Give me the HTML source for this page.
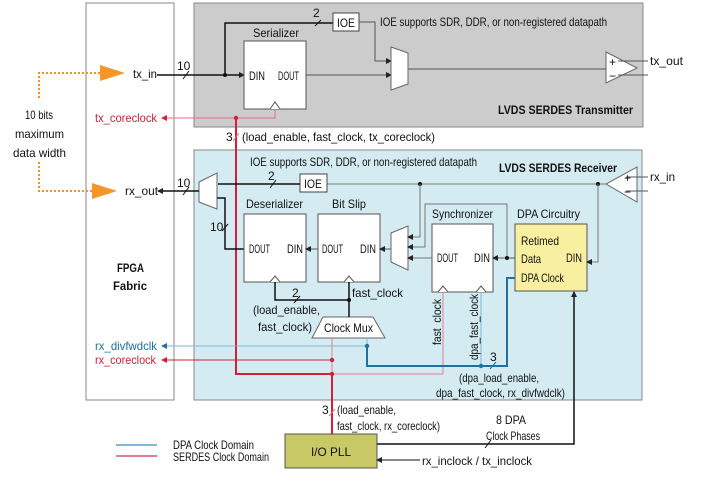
<!DOCTYPE html>
<html><head><meta charset="utf-8"><style>
html,body{margin:0;padding:0;background:#fff}
svg{display:block}
text{font-family:"Liberation Sans",sans-serif;font-size:12px;fill:#111}
.b{font-weight:bold}
</style></head><body>
<svg width="727" height="482" viewBox="0 0 727 482" xmlns="http://www.w3.org/2000/svg">
<defs>
<marker id="ak" markerWidth="6" markerHeight="6" refX="5" refY="3" orient="auto" markerUnits="userSpaceOnUse"><path d="M0,0 L6,3 L0,6z" fill="#222"/></marker>
<marker id="ar" markerWidth="6" markerHeight="6" refX="5" refY="3" orient="auto" markerUnits="userSpaceOnUse"><path d="M0,0 L6,3 L0,6z" fill="#d0203a"/></marker>
<marker id="ab" markerWidth="6" markerHeight="6" refX="5" refY="3" orient="auto" markerUnits="userSpaceOnUse"><path d="M0,0 L6,3 L0,6z" fill="#2070a0"/></marker>
</defs>
<rect x="86" y="3" width="88" height="397" fill="#fff" stroke="#888" stroke-width="1"/>
<text x="117" y="272" class="b" textLength="27" lengthAdjust="spacingAndGlyphs">FPGA</text>
<text x="113" y="290" class="b" textLength="34" lengthAdjust="spacingAndGlyphs">Fabric</text>
<rect x="194" y="3" width="449" height="124" fill="#cccccc" stroke="#888"/>
<rect x="194" y="150" width="448" height="250" fill="#d4ebf2" stroke="#888"/>
<g stroke="#f0902a" stroke-width="2" stroke-dasharray="2,2" fill="none">
<path d="M39,98 V73 H102"/><path d="M39,162 V191 H94"/></g>
<path d="M100,65 L125,73 L100,81z" fill="#f5962a"/>
<path d="M92,183 L117,191 L92,199z" fill="#f5962a"/>
<text x="25" y="119" textLength="28" lengthAdjust="spacingAndGlyphs">10 bits</text>
<text x="15" y="138" textLength="49" lengthAdjust="spacingAndGlyphs">maximum</text>
<text x="13" y="157" textLength="53" lengthAdjust="spacingAndGlyphs">data width</text>
<!-- TX -->
<text x="133" y="78" textLength="24" lengthAdjust="spacingAndGlyphs">tx_in</text>
<line x1="157" y1="75" x2="244" y2="75" stroke="#111" stroke-width="1.5" marker-end="url(#ak)"/>
<text x="177" y="70" font-size="10">10</text><line x1="183" y1="79" x2="189" y2="71" stroke="#111"/>
<circle cx="225" cy="75" r="2" fill="#111"/>
<path d="M225,75 V23 H333" stroke="#111" stroke-width="1.5" fill="none"/>
<text x="313" y="17" font-size="10">2</text><line x1="315" y1="26" x2="321" y2="20" stroke="#111"/>
<rect x="333" y="13" width="26" height="18" fill="#fff" stroke="#444"/><text x="337" y="27" textLength="18" lengthAdjust="spacingAndGlyphs">IOE</text>
<text x="380" y="26" textLength="227" lengthAdjust="spacingAndGlyphs">IOE supports SDR, DDR, or non-registered datapath</text>
<text x="253" y="37" textLength="46" lengthAdjust="spacingAndGlyphs">Serializer</text>
<rect x="244" y="41" width="62" height="68" fill="#fff" stroke="#555"/>
<text x="249" y="80" font-size="11" textLength="16" lengthAdjust="spacingAndGlyphs">DIN</text><text x="278" y="80" font-size="11" textLength="21" lengthAdjust="spacingAndGlyphs">DOUT</text>
<path d="M270,109 L275,102 L280,109" fill="#fff" stroke="#555"/>
<path d="M359,22 H375 V61 H391" stroke="#555" fill="none" marker-end="url(#ak)"/>
<line x1="306" y1="75" x2="391" y2="75" stroke="#555" marker-end="url(#ak)"/>
<path d="M391,47 L408,53 L408,84 L391,90z" fill="#fff" stroke="#666"/>
<line x1="408" y1="69" x2="606" y2="69" stroke="#555"/>
<path d="M606,52 L637,68 L606,83z" fill="#fff" stroke="#666"/>
<line x1="618" y1="61" x2="648" y2="61" stroke="#555"/><line x1="618" y1="75" x2="648" y2="75" stroke="#555"/>
<text x="609" y="66" font-size="13">+</text><text x="609" y="80" font-size="13">−</text>
<text x="650" y="65" textLength="33" lengthAdjust="spacingAndGlyphs">tx_out</text>
<text x="498" y="114" class="b" textLength="135" lengthAdjust="spacingAndGlyphs">LVDS SERDES Transmitter</text>
<text x="95" y="122" style="fill:#d0203a" textLength="62" lengthAdjust="spacingAndGlyphs">tx_coreclock</text>
<path d="M275,109 V118 H162" stroke="#e07080" fill="none" marker-end="url(#ar)"/>
<circle cx="236" cy="118" r="2.2" fill="#d0203a"/>
<path d="M236,118 V374 H332" stroke="#d0203a" stroke-width="2" fill="none"/>
<text x="226" y="141" font-size="10">3</text><line x1="233" y1="141" x2="239" y2="133" stroke="#e07080"/>
<text x="242" y="141" textLength="193" lengthAdjust="spacingAndGlyphs">(load_enable, fast_clock, tx_coreclock)</text>
<!-- RX -->
<text x="250" y="166" textLength="227" lengthAdjust="spacingAndGlyphs">IOE supports SDR, DDR, or non-registered datapath</text>
<text x="499" y="172" class="b" textLength="118" lengthAdjust="spacingAndGlyphs">LVDS SERDES Receiver</text>
<path d="M637,167 L606,184 L637,202z" fill="#fff" stroke="#666"/>
<line x1="626" y1="177" x2="648" y2="177" stroke="#555"/><line x1="626" y1="191" x2="648" y2="191" stroke="#555"/>
<text x="624" y="182" font-size="13">+</text><text x="624" y="196" font-size="13">−</text>
<text x="650" y="181" textLength="25" lengthAdjust="spacingAndGlyphs">rx_in</text>
<line x1="606" y1="184" x2="327" y2="184" stroke="#777"/>
<circle cx="420" cy="184" r="2" fill="#111"/><circle cx="598" cy="184" r="2" fill="#111"/>
<rect x="300" y="174" width="27" height="18" fill="#fff" stroke="#444"/><text x="304" y="188" textLength="18" lengthAdjust="spacingAndGlyphs">IOE</text>
<line x1="218" y1="184" x2="300" y2="184" stroke="#111" stroke-width="1.5"/>
<text x="268" y="180" font-size="10">2</text><line x1="270" y1="188" x2="276" y2="180" stroke="#111"/>
<path d="M199,182 L217,173 L217,209 L199,202z" fill="#fff" stroke="#666"/>
<line x1="199" y1="191" x2="158" y2="191" stroke="#111" stroke-width="1.5" marker-end="url(#ak)"/>
<text x="125" y="195" textLength="33" lengthAdjust="spacingAndGlyphs">rx_out</text>
<text x="177" y="187" font-size="10">10</text><line x1="183" y1="195" x2="189" y2="187" stroke="#111"/>
<path d="M217,198 H225 V249 H244" stroke="#111" stroke-width="1.5" fill="none"/>
<text x="210" y="231" font-size="10">10</text><line x1="222" y1="231" x2="228" y2="224" stroke="#111"/>
<text x="246" y="208" textLength="57" lengthAdjust="spacingAndGlyphs">Deserializer</text>
<rect x="244" y="214" width="62" height="68" fill="#fff" stroke="#555"/>
<text x="249" y="253" font-size="11" textLength="21" lengthAdjust="spacingAndGlyphs">DOUT</text><text x="287" y="253" font-size="11" textLength="16" lengthAdjust="spacingAndGlyphs">DIN</text>
<path d="M270,282 L275,276 L280,282" fill="#fff" stroke="#555"/>
<text x="332" y="208" textLength="34" lengthAdjust="spacingAndGlyphs">Bit Slip</text>
<rect x="318" y="214" width="62" height="68" fill="#fff" stroke="#555"/>
<text x="322" y="253" font-size="11" textLength="21" lengthAdjust="spacingAndGlyphs">DOUT</text><text x="360" y="253" font-size="11" textLength="16" lengthAdjust="spacingAndGlyphs">DIN</text>
<path d="M344,282 L349,276 L354,282" fill="#fff" stroke="#555"/>
<line x1="318" y1="249" x2="306" y2="249" stroke="#555" marker-end="url(#ak)"/>
<path d="M391,233 L408,226 L408,270 L391,262z" fill="#fff" stroke="#666"/>
<line x1="391" y1="249" x2="380" y2="249" stroke="#555" marker-end="url(#ak)"/>
<path d="M420,184 V237 H408" stroke="#777" fill="none" marker-end="url(#ak)"/>
<path d="M507,258 V204 H425 V247 H408" stroke="#777" fill="none" marker-end="url(#ak)"/>
<line x1="432" y1="258" x2="408" y2="258" stroke="#777" marker-end="url(#ak)"/>
<text x="432" y="218" textLength="61" lengthAdjust="spacingAndGlyphs">Synchronizer</text>
<rect x="432" y="224" width="61" height="68" fill="#fff" stroke="#555"/>
<text x="437" y="262" font-size="11" textLength="21" lengthAdjust="spacingAndGlyphs">DOUT</text><text x="474" y="262" font-size="11" textLength="16" lengthAdjust="spacingAndGlyphs">DIN</text>
<path d="M438,292 L443,286 L448,292" fill="#fff" stroke="#555"/>
<path d="M476,292 L481,286 L486,292" fill="#fff" stroke="#555"/>
<line x1="515" y1="258" x2="493" y2="258" stroke="#555" marker-end="url(#ak)"/>
<circle cx="507" cy="258" r="2" fill="#111"/>
<text x="517" y="218" textLength="63" lengthAdjust="spacingAndGlyphs">DPA Circuitry</text>
<rect x="515" y="224" width="72" height="67" fill="#f8f0a0" stroke="#555"/>
<text x="521" y="245" textLength="38" lengthAdjust="spacingAndGlyphs">Retimed</text><text x="521" y="263" textLength="20" lengthAdjust="spacingAndGlyphs">Data</text><text x="521" y="282" textLength="43" lengthAdjust="spacingAndGlyphs">DPA Clock</text>
<text x="566" y="262" font-size="11" textLength="16" lengthAdjust="spacingAndGlyphs">DIN</text>
<path d="M598,184 V262 H587" stroke="#777" fill="none" marker-end="url(#ak)"/>
<!-- clock mux -->
<path d="M323,317 L373,317 L385,338 L312,338z" fill="#fff" stroke="#666"/>
<text x="324" y="332" textLength="49" lengthAdjust="spacingAndGlyphs">Clock Mux</text>
<path d="M275,282 V300 H349 V317" stroke="#111" stroke-width="1.5" fill="none"/>
<line x1="349" y1="282" x2="349" y2="300" stroke="#111" stroke-width="1.5"/>
<circle cx="349" cy="300" r="2" fill="#111"/>
<text x="292" y="297" font-size="10">2</text><line x1="294" y1="303" x2="300" y2="296" stroke="#111"/>
<text x="352" y="297" textLength="51" lengthAdjust="spacingAndGlyphs">fast_clock</text>
<text x="253" y="314" textLength="67" lengthAdjust="spacingAndGlyphs">(load_enable,</text>
<text x="258" y="331" textLength="54" lengthAdjust="spacingAndGlyphs">fast_clock)</text>
<text transform="translate(441,345) rotate(-90)" textLength="46" lengthAdjust="spacingAndGlyphs">fast_clock</text>
<text transform="translate(478,360) rotate(-90)" textLength="66" lengthAdjust="spacingAndGlyphs">dpa_fast_clock</text>
<line x1="443" y1="292" x2="443" y2="374" stroke="#e08090"/>
<line x1="332" y1="374" x2="443" y2="374" stroke="#e08090"/>
<line x1="332" y1="338" x2="332" y2="374" stroke="#e08090"/>
<line x1="332" y1="374" x2="332" y2="434" stroke="#d0203a" stroke-width="2"/>
<line x1="332" y1="360" x2="162" y2="360" stroke="#d0203a" marker-end="url(#ar)"/>
<circle cx="332" cy="360" r="2.2" fill="#d0203a"/><circle cx="332" cy="374" r="2.2" fill="#d0203a"/>
<text x="95" y="364" style="fill:#d0203a" textLength="61" lengthAdjust="spacingAndGlyphs">rx_coreclock</text>
<line x1="367" y1="338" x2="367" y2="346" stroke="#80b8d8"/>
<line x1="367" y1="346" x2="162" y2="346" stroke="#80b8d8" marker-end="url(#ab)"/>
<text x="95" y="350" style="fill:#2070a0" textLength="62" lengthAdjust="spacingAndGlyphs">rx_divfwdclk</text>
<path d="M367,346 V366 H507 V278 H515" stroke="#2070a0" stroke-width="2" fill="none"/>
<circle cx="367" cy="346" r="2.2" fill="#2070a0"/>
<line x1="481" y1="292" x2="481" y2="366" stroke="#80b8d8"/>
<circle cx="481" cy="366" r="2.2" fill="#2070a0"/>
<text x="490" y="361" font-size="10">3</text><line x1="490" y1="369" x2="496" y2="362" stroke="#2070a0"/>
<text x="459" y="382" textLength="80" lengthAdjust="spacingAndGlyphs">(dpa_load_enable,</text>
<text x="436" y="397" textLength="129" lengthAdjust="spacingAndGlyphs">dpa_fast_clock, rx_divfwdclk)</text>
<text x="322" y="414" font-size="10">3</text><line x1="329" y1="416" x2="335" y2="409" stroke="#e07080"/>
<text x="337" y="414" font-size="11" textLength="59" lengthAdjust="spacingAndGlyphs">(load_enable,</text>
<text x="337" y="430" font-size="11" textLength="103" lengthAdjust="spacingAndGlyphs">fast_clock, rx_coreclock)</text>
<rect x="285" y="434" width="92" height="34" fill="#c8c864" stroke="#555"/>
<text x="311" y="456" font-size="13" textLength="40" lengthAdjust="spacingAndGlyphs">I/O PLL</text>
<path d="M377,444 H574 V292" stroke="#111" stroke-width="1.5" fill="none" marker-end="url(#ak)"/>
<line x1="485" y1="448" x2="491" y2="440" stroke="#111"/>
<text x="496" y="424" font-size="11" textLength="30" lengthAdjust="spacingAndGlyphs">8 DPA</text>
<text x="486" y="440" font-size="11" textLength="54" lengthAdjust="spacingAndGlyphs">Clock Phases</text>
<line x1="420" y1="460" x2="377" y2="460" stroke="#111" marker-end="url(#ak)"/>
<text x="422" y="465" font-size="13" textLength="110" lengthAdjust="spacingAndGlyphs">rx_inclock / tx_inclock</text>
<line x1="116" y1="445" x2="157" y2="445" stroke="#80b8d8" stroke-width="2"/>
<line x1="116" y1="456" x2="157" y2="456" stroke="#e08090" stroke-width="2"/>
<text x="173" y="449" font-size="11" textLength="81" lengthAdjust="spacingAndGlyphs">DPA Clock Domain</text>
<text x="173" y="461" font-size="11" textLength="96" lengthAdjust="spacingAndGlyphs">SERDES Clock Domain</text>
</svg>
</body></html>
